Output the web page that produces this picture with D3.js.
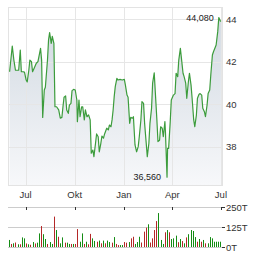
<!DOCTYPE html>
<html>
<head>
<meta charset="utf-8">
<script src="https://cdn.jsdelivr.net/npm/d3@7"></script>
<style>
  body { margin: 0; background: #fff; }
  svg { display: block; }
  text { font-family: "Liberation Sans", Arial, sans-serif; }
</style>
</head>
<body>
<svg></svg>
<script>
const width = 264;
const height = 255;

// price series (closing values)
const priceDates = [
  "2023-06-01","2023-06-06","2023-06-09","2023-06-12","2023-06-18","2023-06-21","2023-06-23","2023-06-27","2023-06-29",
  "2023-07-02","2023-07-04","2023-07-07","2023-07-09","2023-07-12","2023-07-14","2023-07-17","2023-07-21","2023-07-24","2023-07-29","2023-07-31",
  "2023-08-02","2023-08-05","2023-08-07","2023-08-11","2023-08-13","2023-08-15","2023-08-18","2023-08-20","2023-08-23","2023-08-25","2023-08-28",
  "2023-09-01","2023-09-04","2023-09-07","2023-09-09","2023-09-11","2023-09-14","2023-09-16","2023-09-19","2023-09-21","2023-09-24","2023-09-26","2023-09-29",
  "2023-10-02","2023-10-05","2023-10-06","2023-10-09","2023-10-11","2023-10-14","2023-10-16","2023-10-19","2023-10-21","2023-10-24","2023-10-27","2023-10-30",
  "2023-11-01","2023-11-04","2023-11-06","2023-11-09","2023-11-11","2023-11-14","2023-11-16","2023-11-19","2023-11-21","2023-11-24","2023-11-26","2023-11-30",
  "2023-12-03","2023-12-05","2023-12-08","2023-12-10","2023-12-12","2023-12-14","2023-12-16","2023-12-19","2023-12-21","2023-12-25","2023-12-29",
  "2024-01-02","2024-01-04","2024-01-07","2024-01-09","2024-01-12","2024-01-14","2024-01-17","2024-01-19","2024-01-22","2024-01-25","2024-01-28","2024-01-30",
  "2024-02-02","2024-02-04","2024-02-07","2024-02-09","2024-02-12","2024-02-14","2024-02-17","2024-02-19","2024-02-22","2024-02-24","2024-02-27","2024-02-29",
  "2024-03-03","2024-03-05","2024-03-08","2024-03-10","2024-03-13","2024-03-15","2024-03-18","2024-03-19","2024-03-22","2024-03-23","2024-03-25","2024-03-28","2024-03-30",
  "2024-04-03","2024-04-06","2024-04-08","2024-04-11","2024-04-13","2024-04-16","2024-04-18","2024-04-21","2024-04-23","2024-04-26","2024-04-28",
  "2024-05-01","2024-05-03","2024-05-06","2024-05-08","2024-05-11","2024-05-13","2024-05-16","2024-05-18","2024-05-21","2024-05-23","2024-05-26","2024-05-28","2024-05-31",
  "2024-06-02","2024-06-05","2024-06-07","2024-06-10","2024-06-12","2024-06-15","2024-06-17","2024-06-20","2024-06-22","2024-06-25","2024-06-27","2024-06-30","2024-07-01"
];
const priceValues = [
  41.53,42.74,42.08,41.6,41.6,42.55,41.53,41.53,41.5,
  41.14,41.05,41.6,42.08,42.0,41.53,41.7,41.93,42.0,42.63,42.08,
  39.38,40.67,40.8,42.08,43.03,43.37,42.87,43.2,42.87,39.88,39.88,
  39.73,39.34,39.38,39.88,40.33,40.39,39.73,39.57,39.96,40.04,40.64,40.7,
  40.67,40.2,39.18,40.2,39.41,39.88,39.88,39.26,39.73,39.41,39.5,39.26,
  37.69,37.84,37.53,38.16,38.6,38.47,37.76,38.16,38.5,38.4,38.6,38.87,
  38.79,39.02,38.94,39.26,39.73,40.36,40.83,41.22,41.14,41.17,41.14,
  41.17,40.9,40.43,40.33,39.1,39.38,39.34,39.41,38.08,37.76,38.0,38.47,
  39.26,40.12,40.04,39.1,38.16,37.53,38.16,39.1,39.81,40.99,41.48,40.59,
  39.26,38.24,38.3,38.94,38.87,38.47,39.18,38.7,36.56,37.92,37.92,39.18,40.2,
  40.43,40.5,41.46,41.3,42.08,42.63,42.16,41.46,41.3,40.99,40.28,
  41.06,41.46,40.9,40.28,39.26,38.94,39.49,40.28,40.47,40.5,40.43,39.81,39.65,
  39.41,39.96,40.5,40.67,41.38,42.32,42.47,42.66,42.79,43.42,44.08,43.92,43.9
];

// volume, in thousands, one bar every 4 days from volStart
const volStart = "2023-05-31";
const volStepDays = 4;
const volValues = [
  44,19,23,28,17,17,60,54,22,17, 14,31,22,27,85,131,80,50,19,31,
  19,190,106,64,23,60,27,27,19,19, 19,19,112,33,85,19,33,17,82,54,
  38,33,40,23,40,23,40,31,27,62, 19,12,12,12,31,27,31,54,64,19,
  31,64,28,96,121,142,28,54,106,162, 212,44,19,92,106,92,50,54,71,30,
  50,37,23,60,80,106,100,62,33,50, 33,44,23,23,62,54,33,33,33,33
];
// g = up day, r = down day
const volDir = "grgrgrggrg" + "rgrggrggrg" + "grgrggrggr" + "grrggrgrrg" + "grgrgrggrg" +
               "rrggrrgrrg" + "ggrrrgrrrr" + "gggrgrgggr" + "grgrggggrg" + "rgrggggggg";

const monthTicks = ["2023-07-01","2023-10-01","2024-01-01","2024-04-01","2024-07-01"];
const monthLabels = ["Jul","Okt","Jan","Apr","Jul"];
const priceTicks = [38, 40, 42, 44];
const volTicks = [0, 125, 250];
const volTickLabels = ["0T", "125T", "250T"];

const parse = d3.utcParse("%Y-%m-%d");
const de = d3.formatLocale({decimal: ",", thousands: ".", grouping: [3], currency: ["", "€"]});
const fmt = de.format(".3f");

const svg = d3.select("svg")
  .attr("width", width)
  .attr("height", height);

const plotL = 8, plotR = 222, plotT = 7, plotB = 185;
const volT = 207, volB = 247;

const x = d3.scaleUtc()
  .domain([parse("2023-05-29"), parse("2024-07-03")])
  .range([plotL, plotR]);
const y = d3.scaleLinear()
  .domain([36.195, 44.58])
  .range([plotB, plotT]);
const yv = d3.scaleLinear()
  .domain([0, 250])
  .range([volB, volT]);

const prices = priceDates.map((d, i) => ({date: parse(d), value: priceValues[i]}));

// gradient under the line
const grad = svg.append("defs").append("linearGradient")
  .attr("id", "fill")
  .attr("gradientUnits", "userSpaceOnUse")
  .attr("x1", 0).attr("x2", 0)
  .attr("y1", plotT).attr("y2", plotB);
grad.append("stop").attr("offset", 0).attr("stop-color", "#cfd7e0");
grad.append("stop").attr("offset", 1).attr("stop-color", "#f7f8fa");

svg.append("path")
  .datum(prices)
  .attr("fill", "url(#fill)")
  .attr("d", d3.area()
    .x(d => x(d.date))
    .y0(plotB)
    .y1(d => y(d.value)));

// grid
svg.append("g")
  .selectAll("line")
  .data(priceTicks)
  .enter().append("line")
  .attr("x1", plotL).attr("x2", plotR)
  .attr("y1", d => Math.round(y(d)) + 0.5)
  .attr("y2", d => Math.round(y(d)) + 0.5)
  .attr("stroke", "#e6e6e6");

svg.append("g")
  .selectAll("line")
  .data(monthTicks)
  .enter().append("line")
  .attr("x1", d => Math.round(x(parse(d))) + 0.5)
  .attr("x2", d => Math.round(x(parse(d))) + 0.5)
  .attr("y1", plotT).attr("y2", plotB)
  .attr("stroke", "#e6e6e6");

svg.append("rect")
  .attr("x", plotL + 0.5).attr("y", plotT + 0.5)
  .attr("width", plotR - plotL).attr("height", plotB - plotT)
  .attr("fill", "none")
  .attr("stroke", "#e3e3e3");

// price line
svg.append("path")
  .datum(prices)
  .attr("fill", "none")
  .attr("stroke", "#3c9c3c")
  .attr("stroke-width", 1.2)
  .attr("stroke-linejoin", "round")
  .attr("d", d3.line()
    .x(d => x(d.date))
    .y(d => y(d.value)));

// price axis labels
svg.append("g")
  .selectAll("text")
  .data(priceTicks)
  .enter().append("text")
  .attr("x", 226)
  .attr("y", d => y(d) + 3.5)
  .attr("font-size", 9.5)
  .attr("fill", "#333")
  .text(d => d);

// month labels
svg.append("g")
  .selectAll("text")
  .data(monthTicks)
  .enter().append("text")
  .attr("x", d => x(parse(d)))
  .attr("y", 198)
  .attr("text-anchor", "middle")
  .attr("font-size", 9.5)
  .attr("fill", "#333")
  .text((d, i) => monthLabels[i]);

// high / low labels
const hi = d3.greatest(prices, d => d.value);
const lo = d3.least(prices, d => d.value);
svg.append("text")
  .attr("x", x(hi.date) - 5)
  .attr("y", y(hi.value) + 3.5)
  .attr("text-anchor", "end")
  .attr("font-family", "DejaVu Sans")
  .attr("font-size", 9)
  .attr("fill", "#222")
  .text(fmt(hi.value));
svg.append("text")
  .attr("x", x(lo.date) - 6)
  .attr("y", y(lo.value) + 3)
  .attr("text-anchor", "end")
  .attr("font-family", "DejaVu Sans")
  .attr("font-size", 9)
  .attr("fill", "#222")
  .text(fmt(lo.value));

// volume panel
svg.append("g")
  .selectAll("line")
  .data(volTicks)
  .enter().append("line")
  .attr("x1", plotL).attr("x2", plotR)
  .attr("y1", d => Math.round(yv(d)) + 0.5)
  .attr("y2", d => Math.round(yv(d)) + 0.5)
  .attr("stroke", "#cccccc");

svg.append("g")
  .selectAll("line")
  .data(monthTicks)
  .enter().append("line")
  .attr("x1", d => Math.round(x(parse(d))) + 0.5)
  .attr("x2", d => Math.round(x(parse(d))) + 0.5)
  .attr("y1", volT).attr("y2", volT + 3)
  .attr("stroke", "#333");

const vstart = parse(volStart);
svg.append("g")
  .selectAll("rect")
  .data(volValues)
  .enter().append("rect")
  .attr("x", (d, i) => Math.round(x(d3.utcDay.offset(vstart, i * volStepDays))))
  .attr("width", 1)
  .attr("y", d => yv(d))
  .attr("height", d => volB - yv(d))
  .attr("fill", (d, i) => volDir[i] === "g" ? "#148c14" : "#b42828");

const vax = svg.append("g")
  .selectAll("g")
  .data(volTicks)
  .enter().append("g")
  .attr("transform", d => "translate(0," + (Math.round(yv(d)) + 0.5) + ")");
vax.append("line")
  .attr("x1", plotR).attr("x2", plotR + 3)
  .attr("stroke", "#333");
vax.append("text")
  .attr("x", 226)
  .attr("y", 3.5)
  .attr("font-size", 9.5)
  .attr("fill", "#333")
  .text((d, i) => volTickLabels[i]);
</script>
</body>
</html>
